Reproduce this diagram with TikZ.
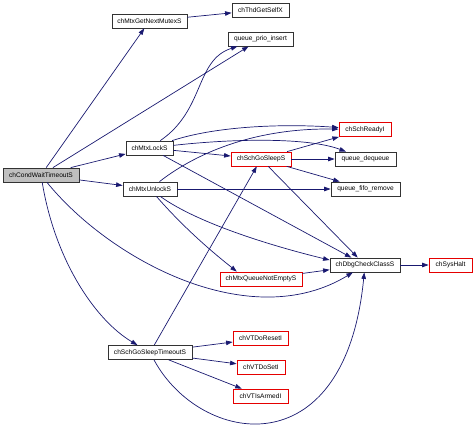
\documentclass[tikz,border=0pt]{standalone}
\usepackage{fontspec}
\setmainfont{Liberation Sans}
\usetikzlibrary{arrows.meta}
\definecolor{edgecol}{RGB}{25,25,112}
\definecolor{nodegray}{RGB}{191,191,191}
\begin{document}
\begin{tikzpicture}[x=1pt,y=-1pt,
  fn/.style={draw=black!80,line width=0.8pt,fill=white,inner sep=0pt,minimum height=14pt,
    font=\fontsize{6.6}{7}\selectfont},
  rn/.style={fn,draw=red!90!black},
  gn/.style={fn,fill=nodegray},
  e/.style={draw=edgecol,line width=0.7pt,-{Triangle[length=6.5pt,width=4.5pt]}}]
\useasboundingbox (0,0) rectangle (474,426);
% nodes
\node[gn,minimum width=76pt] (cw) at (41,175) {chCondWaitTimeoutS};
\node[fn,minimum width=75pt] (gnm) at (149.5,21) {chMtxGetNextMutexS};
\node[fn,minimum width=57pt] (gsx) at (260.5,10) {chThdGetSelfX};
\node[fn,minimum width=65pt] (pri) at (260.5,39) {queue\_prio\_insert};
\node[fn,minimum width=47pt] (lock) at (149.5,148) {chMtxLockS};
\node[rn,minimum width=60pt] (gos) at (261,159) {chSchGoSleepS};
\node[rn,minimum width=52pt] (rdy) at (365,129.5) {chSchReadyI};
\node[fn,minimum width=61pt] (deq) at (365.5,159) {queue\_dequeue};
\node[fn,minimum width=69pt] (fifo) at (365.5,189) {queue\_fifo\_remove};
\node[fn,minimum width=54pt] (unl) at (150,189) {chMtxUnlockS};
\node[fn,minimum width=70pt] (dbg) at (365,265) {chDbgCheckClassS};
\node[rn,minimum width=43pt] (halt) at (450.5,265) {chSysHalt};
\node[rn,minimum width=82pt] (qne) at (261,279) {chMtxQueueNotEmptyS};
\node[fn,minimum width=84pt] (gst) at (150,352.5) {chSchGoSleepTimeoutS};
\node[rn,minimum width=55pt] (vtr) at (260.5,338.5) {chVTDoResetI};
\node[rn,minimum width=48pt] (vts) at (261,367) {chVTDoSetI};
\node[rn,minimum width=55pt] (vta) at (260.5,396) {chVTIsArmedI};
% edges from chCondWaitTimeoutS
\draw[e] (cw) -- (gnm);
\draw[e] (cw) -- (pri);
\draw[e] (cw) -- (lock);
\draw[e] (cw) -- (unl);
\draw[e] (cw) .. controls (55,260) and (95,320) .. (gst);
\draw[e] (cw) .. controls (110,260) and (250,335) .. (dbg);
% chMtxGetNextMutexS
\draw[e] (gnm) -- (gsx);
% chMtxLockS
\draw[e] (lock) .. controls (205,110) and (195,60) .. (pri);
\draw[e] (lock) .. controls (220,125) and (290,124) .. (rdy);
\draw[e] (lock) .. controls (240,138) and (310,138) .. (deq);
\draw[e] (lock) -- (gos);
\draw[e] (lock) -- (dbg);
% chMtxUnlockS
\draw[e] (unl) .. controls (200,150) and (260,128) .. (rdy);
\draw[e] (unl) -- (fifo);
\draw[e] (unl) .. controls (190,235) and (225,262) .. (qne.163);
\draw[e] (unl) .. controls (200,225) and (280,248) .. (dbg.172);
% chSchGoSleepS
\draw[e] (gos) -- (rdy);
\draw[e] (gos) -- (deq);
\draw[e] (gos) -- (fifo);
\draw[e] (gos) -- (dbg);
% others
\draw[e] (qne) -- (dbg);
\draw[e] (dbg) -- (halt);
\draw[e] (gst) -- (gos);
\draw[e] (gst) -- (vtr);
\draw[e] (gst) -- (vts);
\draw[e] (gst) -- (vta);
\draw[e] (gst) .. controls (200,445) and (345,470) .. (dbg);
\end{tikzpicture}
\end{document}
